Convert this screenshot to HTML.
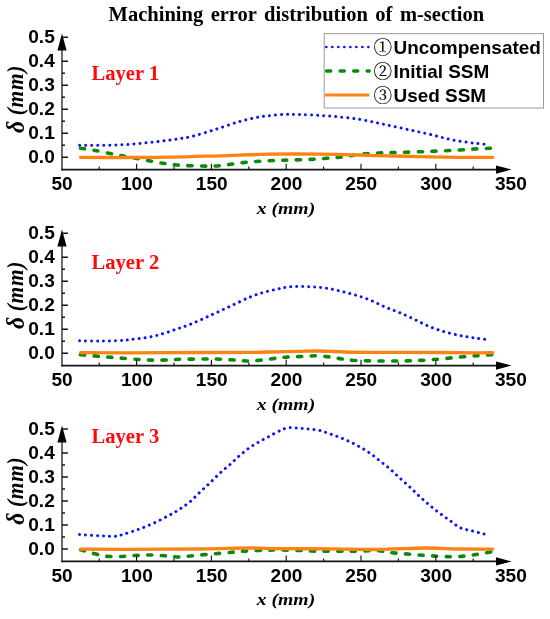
<!DOCTYPE html>
<html lang="en"><head><meta charset="utf-8"><title>Machining error distribution of m-section</title>
<style>
html,body{margin:0;padding:0;background:#fff;}
body{width:550px;height:619px;overflow:hidden;}
svg{display:block;filter:blur(0.45px);}
.tk{font-family:"Liberation Sans",Arial,sans-serif;font-weight:700;font-size:19.1px;fill:#000;}
.lg{font-family:"Liberation Sans",Arial,sans-serif;font-weight:700;font-size:18.95px;fill:#000;}
.cn{font-family:"Noto Serif CJK SC","Noto Sans CJK SC","DejaVu Sans",serif;font-weight:400;font-size:18.6px;stroke:#000;stroke-width:0.2px;}
.tt{font-family:"Liberation Serif","Times New Roman",serif;font-weight:700;font-size:20.5px;word-spacing:2.4px;fill:#000;}
.ly{font-family:"Liberation Serif","Times New Roman",serif;font-weight:700;font-size:20.6px;fill:#ff0a0a;}
.xl{font-family:"Liberation Serif","Times New Roman",serif;font-weight:700;font-style:italic;font-size:17.5px;fill:#000;}
.yl{font-family:"Liberation Serif","Times New Roman",serif;font-weight:700;font-style:italic;font-size:21.4px;letter-spacing:0.75px;fill:#000;}
</style></head><body>
<svg width="550" height="619" viewBox="0 0 550 619">
<rect width="550" height="619" fill="#fff"/>
<text class="tt" x="296.4" y="21.1" text-anchor="middle">Machining error distribution of m-section</text>
<path d="M79.60 145.20 C81.67 145.20 87.93 145.20 92.00 145.20 C96.07 145.20 100.00 145.23 104.00 145.20 C108.00 145.17 112.00 145.13 116.00 145.00 C120.00 144.87 124.00 144.67 128.00 144.40 C132.00 144.13 136.00 143.77 140.00 143.40 C144.00 143.03 148.00 142.63 152.00 142.20 C156.00 141.77 160.00 141.30 164.00 140.80 C168.00 140.30 171.33 139.93 176.00 139.20 C180.67 138.47 185.50 138.00 192.00 136.40 C198.50 134.80 207.33 132.00 215.00 129.60 C222.67 127.20 231.17 124.00 238.00 122.00 C244.83 120.00 250.67 118.67 256.00 117.60 C261.33 116.53 265.00 116.13 270.00 115.60 C275.00 115.07 281.00 114.57 286.00 114.40 C291.00 114.23 294.33 114.43 300.00 114.60 C305.67 114.77 313.33 115.00 320.00 115.40 C326.67 115.80 333.33 116.33 340.00 117.00 C346.67 117.67 353.67 118.40 360.00 119.40 C366.33 120.40 373.00 121.97 378.00 123.00 C383.00 124.03 384.67 124.43 390.00 125.60 C395.33 126.77 403.33 128.53 410.00 130.00 C416.67 131.47 423.33 132.83 430.00 134.40 C436.67 135.97 443.33 138.03 450.00 139.40 C456.67 140.77 465.00 141.87 470.00 142.60 C475.00 143.33 476.67 143.45 480.00 143.80 C483.33 144.15 488.33 144.55 490.00 144.70" fill="none" stroke="#0a14f5" stroke-width="3" stroke-dasharray="0.01 6.0294" stroke-linecap="round"/>
<path d="M79.00 148.00 C81.67 148.42 89.00 149.42 95.00 150.50 C101.00 151.58 108.83 153.32 115.00 154.50 C121.17 155.68 126.17 156.52 132.00 157.60 C137.83 158.68 144.50 160.00 150.00 161.00 C155.50 162.00 160.00 162.90 165.00 163.60 C170.00 164.30 174.17 164.80 180.00 165.20 C185.83 165.60 194.17 165.87 200.00 166.00 C205.83 166.13 210.00 166.27 215.00 166.00 C220.00 165.73 225.00 165.00 230.00 164.40 C235.00 163.80 240.00 162.93 245.00 162.40 C250.00 161.87 255.00 161.52 260.00 161.20 C265.00 160.88 270.00 160.70 275.00 160.50 C280.00 160.30 284.17 160.18 290.00 160.00 C295.83 159.82 303.33 159.73 310.00 159.40 C316.67 159.07 324.17 158.47 330.00 158.00 C335.83 157.53 340.00 157.23 345.00 156.60 C350.00 155.97 354.50 154.80 360.00 154.20 C365.50 153.60 371.33 153.30 378.00 153.00 C384.67 152.70 391.33 152.67 400.00 152.40 C408.67 152.13 420.00 151.80 430.00 151.40 C440.00 151.00 452.00 150.43 460.00 150.00 C468.00 149.57 472.42 149.10 478.00 148.80 C483.58 148.50 490.92 148.30 493.50 148.20" fill="none" stroke="#0a8a0a" stroke-width="3.6" stroke-dasharray="4.1 9.5" stroke-dashoffset="-1.6" stroke-linecap="round"/>
<path d="M80.50 157.30 C87.08 157.33 105.08 157.52 120.00 157.50 C134.92 157.48 153.33 157.48 170.00 157.20 C186.67 156.92 203.33 156.30 220.00 155.80 C236.67 155.30 253.33 154.48 270.00 154.20 C286.67 153.92 305.00 153.97 320.00 154.10 C335.00 154.23 350.33 154.75 360.00 155.00 C369.67 155.25 368.00 155.33 378.00 155.60 C388.00 155.87 406.33 156.32 420.00 156.60 C433.67 156.88 447.90 157.18 460.00 157.30 C472.10 157.42 487.17 157.30 492.60 157.30" fill="none" stroke="#ff8214" stroke-width="3.3" stroke-linecap="round"/>
<path d="M62 44.0 V170.4" fill="none" stroke="#141414" stroke-width="1.25"/>
<path d="M61.4 169.6 H500" fill="none" stroke="#141414" stroke-width="1.6"/>
<path d="M62 33.6 L66.6 50.6 H57.4 Z" fill="#000"/>
<path d="M511.6 169.6 L496 165.4 V173.8 Z" fill="#000"/>
<path d="M62 37.2 h5.9 M62 61.2 h5.9 M62 85.2 h5.9 M62 109.2 h5.9 M62 133.2 h5.9 M62 157.2 h5.9 M62 49.2 h3 M62 73.2 h3 M62 97.2 h3 M62 121.2 h3 M62 145.2 h3" fill="none" stroke="#141414" stroke-width="1.35"/>
<path d="M136.6 169.6 v-5.9 M211.4 169.6 v-5.9 M286.2 169.6 v-5.9 M361.0 169.6 v-5.9 M435.8 169.6 v-5.9 M99.2 169.6 v-3 M174.0 169.6 v-3 M248.8 169.6 v-3 M323.6 169.6 v-3 M398.4 169.6 v-3 M473.2 169.6 v-3" fill="none" stroke="#141414" stroke-width="1.15"/>
<text class="tk" x="54.8" y="42.7" text-anchor="end">0.5</text>
<text class="tk" x="54.8" y="66.7" text-anchor="end">0.4</text>
<text class="tk" x="54.8" y="90.7" text-anchor="end">0.3</text>
<text class="tk" x="54.8" y="114.7" text-anchor="end">0.2</text>
<text class="tk" x="54.8" y="138.7" text-anchor="end">0.1</text>
<text class="tk" x="54.8" y="162.7" text-anchor="end">0.0</text>
<text class="tk" x="62.1" y="190.3" text-anchor="middle">50</text>
<text class="tk" x="136.9" y="190.3" text-anchor="middle">100</text>
<text class="tk" x="211.7" y="190.3" text-anchor="middle">150</text>
<text class="tk" x="286.5" y="190.3" text-anchor="middle">200</text>
<text class="tk" x="361.3" y="190.3" text-anchor="middle">250</text>
<text class="tk" x="436.1" y="190.3" text-anchor="middle">300</text>
<text class="tk" x="510.9" y="190.3" text-anchor="middle">350</text>
<text class="xl" transform="translate(286 213.6) scale(1.125 1)" text-anchor="middle">x (mm)</text>
<text class="yl" transform="translate(23.4 133.1) rotate(-90) scale(1 1.06)"><tspan x="0.2" y="0.8" style="font-size:23.6px">δ</tspan><tspan x="11.7" y="0"> (mm)</tspan></text>
<text class="ly" x="91.5" y="79.6">Layer 1</text>
<path d="M79.60 340.80 C83.00 340.83 93.27 341.03 100.00 341.00 C106.73 340.97 115.00 340.83 120.00 340.60 C125.00 340.37 125.00 340.20 130.00 339.60 C135.00 339.00 144.17 338.10 150.00 337.00 C155.83 335.90 160.33 334.40 165.00 333.00 C169.67 331.60 173.83 330.03 178.00 328.60 C182.17 327.17 184.67 326.57 190.00 324.40 C195.33 322.23 203.33 318.60 210.00 315.60 C216.67 312.60 223.33 309.50 230.00 306.40 C236.67 303.30 244.17 299.40 250.00 297.00 C255.83 294.60 260.33 293.33 265.00 292.00 C269.67 290.67 274.83 289.73 278.00 289.00 C281.17 288.27 281.17 288.00 284.00 287.60 C286.83 287.20 290.67 286.73 295.00 286.60 C299.33 286.47 305.00 286.57 310.00 286.80 C315.00 287.03 320.00 287.30 325.00 288.00 C330.00 288.70 335.00 289.83 340.00 291.00 C345.00 292.17 350.00 293.50 355.00 295.00 C360.00 296.50 365.00 298.00 370.00 300.00 C375.00 302.00 380.00 304.87 385.00 307.00 C390.00 309.13 395.00 310.68 400.00 312.80 C405.00 314.92 410.00 317.37 415.00 319.70 C420.00 322.03 425.00 324.77 430.00 326.80 C435.00 328.83 440.00 330.43 445.00 331.90 C450.00 333.37 455.83 334.72 460.00 335.60 C464.17 336.48 467.00 336.73 470.00 337.20 C473.00 337.67 474.58 337.92 478.00 338.40 C481.42 338.88 488.42 339.82 490.50 340.10" fill="none" stroke="#0a14f5" stroke-width="3" stroke-dasharray="0.01 5.9560" stroke-linecap="round"/>
<path d="M79.00 354.60 C82.50 354.90 93.17 355.83 100.00 356.40 C106.83 356.97 113.33 357.47 120.00 358.00 C126.67 358.53 134.17 359.23 140.00 359.60 C145.83 359.97 150.00 360.17 155.00 360.20 C160.00 360.23 165.83 359.95 170.00 359.80 C174.17 359.65 174.17 359.43 180.00 359.30 C185.83 359.17 199.17 359.05 205.00 359.00 C210.83 358.95 210.00 358.82 215.00 359.00 C220.00 359.18 229.50 359.77 235.00 360.10 C240.50 360.43 243.50 361.02 248.00 361.00 C252.50 360.98 257.00 360.50 262.00 360.00 C267.00 359.50 273.33 358.53 278.00 358.00 C282.67 357.47 285.83 357.05 290.00 356.80 C294.17 356.55 298.67 356.67 303.00 356.50 C307.33 356.33 311.50 355.72 316.00 355.80 C320.50 355.88 325.67 356.47 330.00 357.00 C334.33 357.53 337.67 358.42 342.00 359.00 C346.33 359.58 350.00 360.17 356.00 360.50 C362.00 360.83 370.67 360.92 378.00 361.00 C385.33 361.08 393.00 361.10 400.00 361.00 C407.00 360.90 413.33 360.73 420.00 360.40 C426.67 360.07 433.33 359.57 440.00 359.00 C446.67 358.43 453.67 357.57 460.00 357.00 C466.33 356.43 472.42 356.02 478.00 355.60 C483.58 355.18 490.92 354.68 493.50 354.50" fill="none" stroke="#0a8a0a" stroke-width="3.6" stroke-dasharray="4.1 9.5" stroke-dashoffset="-1.6" stroke-linecap="round"/>
<path d="M80.50 352.70 C88.75 352.73 110.08 352.93 130.00 352.90 C149.92 352.87 180.00 352.58 200.00 352.50 C220.00 352.42 237.00 352.52 250.00 352.40 C263.00 352.28 269.67 351.97 278.00 351.80 C286.33 351.63 293.00 351.53 300.00 351.40 C307.00 351.27 312.50 350.90 320.00 351.00 C327.50 351.10 335.33 351.77 345.00 352.00 C354.67 352.23 362.17 352.32 378.00 352.40 C393.83 352.48 423.33 352.42 440.00 352.50 C456.67 352.58 469.23 352.87 478.00 352.90 C486.77 352.93 490.17 352.73 492.60 352.70" fill="none" stroke="#ff8214" stroke-width="3.3" stroke-linecap="round"/>
<path d="M62 240.0 V366.4" fill="none" stroke="#141414" stroke-width="1.25"/>
<path d="M61.4 365.6 H500" fill="none" stroke="#141414" stroke-width="1.6"/>
<path d="M62 229.6 L66.6 246.6 H57.4 Z" fill="#000"/>
<path d="M511.6 365.6 L496 361.4 V369.8 Z" fill="#000"/>
<path d="M62 233.2 h5.9 M62 257.2 h5.9 M62 281.2 h5.9 M62 305.2 h5.9 M62 329.2 h5.9 M62 353.2 h5.9 M62 245.2 h3 M62 269.2 h3 M62 293.2 h3 M62 317.2 h3 M62 341.2 h3" fill="none" stroke="#141414" stroke-width="1.35"/>
<path d="M136.6 365.6 v-5.9 M211.4 365.6 v-5.9 M286.2 365.6 v-5.9 M361.0 365.6 v-5.9 M435.8 365.6 v-5.9 M99.2 365.6 v-3 M174.0 365.6 v-3 M248.8 365.6 v-3 M323.6 365.6 v-3 M398.4 365.6 v-3 M473.2 365.6 v-3" fill="none" stroke="#141414" stroke-width="1.15"/>
<text class="tk" x="54.8" y="238.7" text-anchor="end">0.5</text>
<text class="tk" x="54.8" y="262.7" text-anchor="end">0.4</text>
<text class="tk" x="54.8" y="286.7" text-anchor="end">0.3</text>
<text class="tk" x="54.8" y="310.7" text-anchor="end">0.2</text>
<text class="tk" x="54.8" y="334.7" text-anchor="end">0.1</text>
<text class="tk" x="54.8" y="358.7" text-anchor="end">0.0</text>
<text class="tk" x="62.1" y="386.3" text-anchor="middle">50</text>
<text class="tk" x="136.9" y="386.3" text-anchor="middle">100</text>
<text class="tk" x="211.7" y="386.3" text-anchor="middle">150</text>
<text class="tk" x="286.5" y="386.3" text-anchor="middle">200</text>
<text class="tk" x="361.3" y="386.3" text-anchor="middle">250</text>
<text class="tk" x="436.1" y="386.3" text-anchor="middle">300</text>
<text class="tk" x="510.9" y="386.3" text-anchor="middle">350</text>
<text class="xl" transform="translate(286 409.6) scale(1.125 1)" text-anchor="middle">x (mm)</text>
<text class="yl" transform="translate(23.4 329.1) rotate(-90) scale(1 1.06)"><tspan x="0.2" y="0.8" style="font-size:23.6px">δ</tspan><tspan x="11.7" y="0"> (mm)</tspan></text>
<text class="ly" x="91.5" y="268.8">Layer 2</text>
<path d="M79.60 534.50 C83.00 534.72 94.10 535.50 100.00 535.80 C105.90 536.10 110.83 536.63 115.00 536.30 C119.17 535.97 120.83 535.05 125.00 533.80 C129.17 532.55 135.00 530.68 140.00 528.80 C145.00 526.92 150.00 524.83 155.00 522.50 C160.00 520.17 165.83 517.05 170.00 514.80 C174.17 512.55 176.67 511.17 180.00 509.00 C183.33 506.83 186.67 504.63 190.00 501.80 C193.33 498.97 196.67 495.17 200.00 492.00 C203.33 488.83 206.67 485.95 210.00 482.80 C213.33 479.65 216.67 476.15 220.00 473.10 C223.33 470.05 226.67 467.47 230.00 464.50 C233.33 461.53 236.67 458.15 240.00 455.30 C243.33 452.45 246.67 449.73 250.00 447.40 C253.33 445.07 256.67 443.22 260.00 441.30 C263.33 439.38 266.67 437.68 270.00 435.90 C273.33 434.12 277.50 431.83 280.00 430.60 C282.50 429.37 283.33 429.00 285.00 428.50 C286.67 428.00 287.50 427.63 290.00 427.60 C292.50 427.57 296.67 428.05 300.00 428.30 C303.33 428.55 306.67 428.73 310.00 429.10 C313.33 429.47 316.67 429.70 320.00 430.50 C323.33 431.30 326.67 432.73 330.00 433.90 C333.33 435.07 336.67 436.18 340.00 437.50 C343.33 438.82 346.67 440.22 350.00 441.80 C353.33 443.38 356.67 445.09 360.00 447.00 C363.33 448.91 366.67 450.92 370.00 453.25 C373.33 455.58 376.67 458.38 380.00 461.00 C383.33 463.62 386.67 466.13 390.00 469.00 C393.33 471.87 396.67 475.17 400.00 478.20 C403.33 481.23 406.67 484.10 410.00 487.20 C413.33 490.30 416.67 493.73 420.00 496.80 C423.33 499.87 426.67 502.82 430.00 505.60 C433.33 508.38 436.67 511.00 440.00 513.50 C443.33 516.00 446.67 518.23 450.00 520.60 C453.33 522.97 456.67 526.07 460.00 527.70 C463.33 529.33 466.67 529.52 470.00 530.40 C473.33 531.28 476.70 532.18 480.00 533.00 C483.30 533.82 488.17 534.92 489.80 535.30" fill="none" stroke="#0a14f5" stroke-width="3" stroke-dasharray="0.01 5.9616" stroke-linecap="round"/>
<path d="M79.00 549.50 C80.33 549.83 84.33 550.78 87.00 551.50 C89.67 552.22 92.00 553.02 95.00 553.80 C98.00 554.58 100.83 555.75 105.00 556.20 C109.17 556.65 115.00 556.62 120.00 556.50 C125.00 556.38 130.00 555.75 135.00 555.50 C140.00 555.25 145.00 554.95 150.00 555.00 C155.00 555.05 160.17 555.47 165.00 555.80 C169.83 556.13 174.00 557.05 179.00 557.00 C184.00 556.95 189.00 556.04 195.00 555.50 C201.00 554.96 208.33 554.33 215.00 553.75 C221.67 553.17 229.17 552.50 235.00 552.00 C240.83 551.50 245.00 551.04 250.00 550.75 C255.00 550.46 260.17 550.38 265.00 550.25 C269.83 550.12 273.17 549.96 279.00 550.00 C284.83 550.04 293.17 550.29 300.00 550.50 C306.83 550.71 311.67 551.12 320.00 551.25 C328.33 551.38 340.33 551.33 350.00 551.25 C359.67 551.17 371.33 550.59 378.00 550.80 C384.67 551.01 384.67 551.92 390.00 552.50 C395.33 553.08 403.33 553.71 410.00 554.25 C416.67 554.79 423.33 555.33 430.00 555.75 C436.67 556.17 444.17 556.71 450.00 556.75 C455.83 556.79 460.17 556.46 465.00 556.00 C469.83 555.54 474.25 554.77 479.00 554.00 C483.75 553.23 491.08 551.83 493.50 551.40" fill="none" stroke="#0a8a0a" stroke-width="3.6" stroke-dasharray="4.1 9.5" stroke-dashoffset="-1.6" stroke-linecap="round"/>
<path d="M80.50 549.20 C88.75 549.22 110.08 549.33 130.00 549.30 C149.92 549.27 180.00 549.22 200.00 549.00 C220.00 548.78 236.83 548.05 250.00 548.00 C263.17 547.95 265.67 548.57 279.00 548.70 C292.33 548.83 313.50 548.67 330.00 548.80 C346.50 548.93 362.17 549.63 378.00 549.50 C393.83 549.37 411.33 548.08 425.00 548.00 C438.67 547.92 448.73 548.82 460.00 549.00 C471.27 549.18 487.17 549.08 492.60 549.10" fill="none" stroke="#ff8214" stroke-width="3.3" stroke-linecap="round"/>
<path d="M62 435.8 V562.2" fill="none" stroke="#141414" stroke-width="1.25"/>
<path d="M61.4 561.4 H500" fill="none" stroke="#141414" stroke-width="1.6"/>
<path d="M62 425.4 L66.6 442.4 H57.4 Z" fill="#000"/>
<path d="M511.6 561.4 L496 557.2 V565.6 Z" fill="#000"/>
<path d="M62 429.0 h5.9 M62 453.0 h5.9 M62 477.0 h5.9 M62 501.0 h5.9 M62 525.0 h5.9 M62 549.0 h5.9 M62 441.0 h3 M62 465.0 h3 M62 489.0 h3 M62 513.0 h3 M62 537.0 h3" fill="none" stroke="#141414" stroke-width="1.35"/>
<path d="M136.6 561.4 v-5.9 M211.4 561.4 v-5.9 M286.2 561.4 v-5.9 M361.0 561.4 v-5.9 M435.8 561.4 v-5.9 M99.2 561.4 v-3 M174.0 561.4 v-3 M248.8 561.4 v-3 M323.6 561.4 v-3 M398.4 561.4 v-3 M473.2 561.4 v-3" fill="none" stroke="#141414" stroke-width="1.15"/>
<text class="tk" x="54.8" y="434.5" text-anchor="end">0.5</text>
<text class="tk" x="54.8" y="458.5" text-anchor="end">0.4</text>
<text class="tk" x="54.8" y="482.5" text-anchor="end">0.3</text>
<text class="tk" x="54.8" y="506.5" text-anchor="end">0.2</text>
<text class="tk" x="54.8" y="530.5" text-anchor="end">0.1</text>
<text class="tk" x="54.8" y="554.5" text-anchor="end">0.0</text>
<text class="tk" x="62.1" y="582.1" text-anchor="middle">50</text>
<text class="tk" x="136.9" y="582.1" text-anchor="middle">100</text>
<text class="tk" x="211.7" y="582.1" text-anchor="middle">150</text>
<text class="tk" x="286.5" y="582.1" text-anchor="middle">200</text>
<text class="tk" x="361.3" y="582.1" text-anchor="middle">250</text>
<text class="tk" x="436.1" y="582.1" text-anchor="middle">300</text>
<text class="tk" x="510.9" y="582.1" text-anchor="middle">350</text>
<text class="xl" transform="translate(286 605.4) scale(1.125 1)" text-anchor="middle">x (mm)</text>
<text class="yl" transform="translate(23.4 524.9) rotate(-90) scale(1 1.06)"><tspan x="0.2" y="0.8" style="font-size:23.6px">δ</tspan><tspan x="11.7" y="0"> (mm)</tspan></text>
<text class="ly" x="91.5" y="443.3">Layer 3</text>
<rect x="324.2" y="33.6" width="219.3" height="74.4" fill="#fff" stroke="#9a9a9a" stroke-width="1"/>
<path d="M326.3 47 H369" fill="none" stroke="#0a14f5" stroke-width="2.7" stroke-dasharray="0.01 6" stroke-linecap="round"/>
<path d="M325 71 H369.3" fill="none" stroke="#0a8a0a" stroke-width="3.3" stroke-dasharray="4.2 9.3" stroke-dashoffset="-1.6" stroke-linecap="round"/>
<path d="M325 95 H369.3" fill="none" stroke="#ff8214" stroke-width="2.8"/>
<text class="lg" y="53.8"><tspan class="cn" x="373.6">①</tspan><tspan x="393.5">Uncompensated</tspan></text>
<text class="lg" y="77.8"><tspan class="cn" x="373.6">②</tspan><tspan x="393.5">Initial SSM</tspan></text>
<text class="lg" y="101.8"><tspan class="cn" x="373.6">③</tspan><tspan x="393.5">Used SSM</tspan></text>
</svg>
</body></html>
